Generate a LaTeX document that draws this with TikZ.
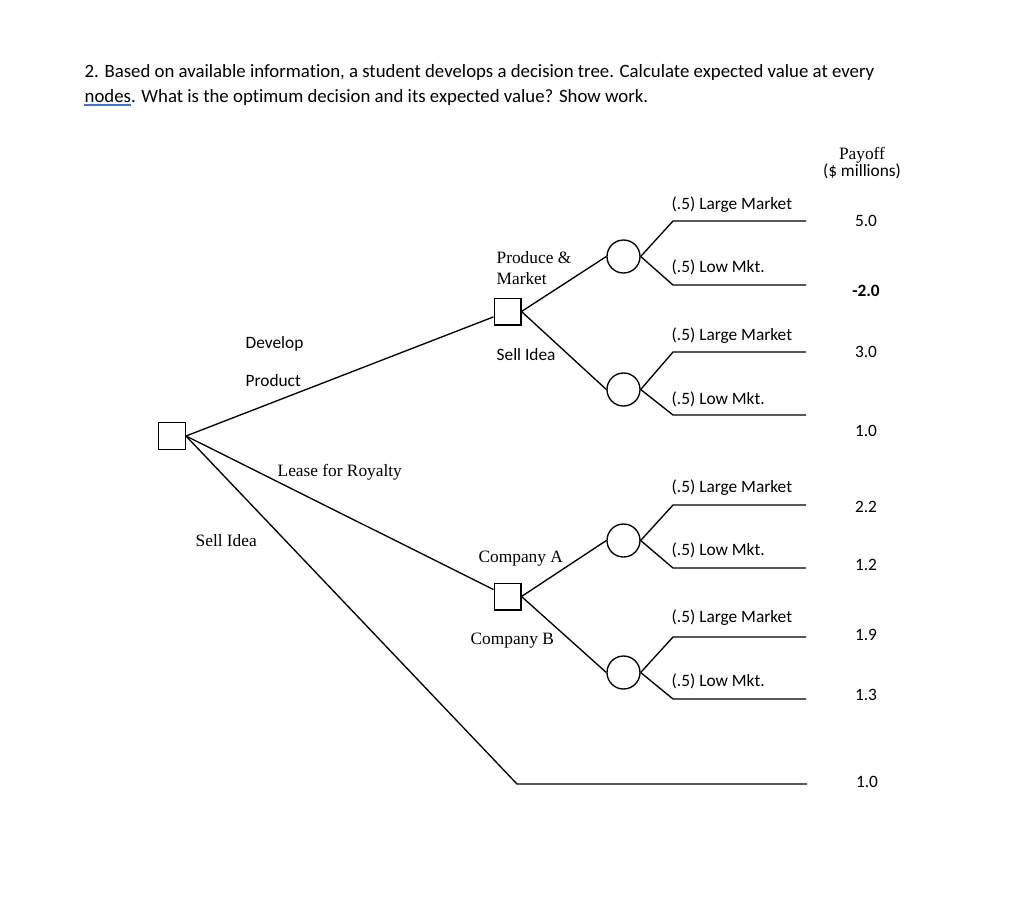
\documentclass[tikz,border=0pt]{standalone}
\usepackage{fontspec}
\setmainfont{Liberation Serif}
\newfontfamily\calfont[Ligatures=NoCommon]{Carlito}
\begin{document}
\begin{tikzpicture}[x=0.75pt,y=-0.75pt,
  line width=1pt,
  decbox/.style={draw, rectangle, minimum size=20pt, inner sep=0pt},
  chance/.style={draw, circle, minimum size=24.75pt, inner sep=0pt},
  serlab/.style={inner sep=0pt, anchor=base west, font=\fontsize{13}{15}\selectfont},
  sanlab/.style={inner sep=0pt, anchor=base west, font=\calfont\fontsize{13}{15}\selectfont},
  paynum/.style={inner sep=0pt, anchor=base, font=\calfont\fontsize{13}{15}\selectfont},
  titletext/.style={inner sep=0pt, anchor=base west, font=\calfont\fontsize{14.1}{17}\selectfont}]
\useasboundingbox (0,0) rectangle (1024,910);

% title
\node[titletext] (t1) at (84,77) {2. Based on available information, a student develops a decision tree. Calculate expected value at every};
\node[titletext] (t2) at (84,102) {nodes. What is the optimum decision and its expected value? Show work.};
\draw[line width=1.5pt, draw={rgb,255:red,68;green,114;blue,210}] (84,104.5) -- (131,104.5);

% payoff header
\node[inner sep=0pt, anchor=base, font=\fontsize{13}{15}\selectfont] (ph) at (862,159) {Payoff};
\node[paynum] (pm) at (862,176) {(\$ millions)};

% decision and chance nodes
\node[decbox] (root) at (172,436) {};
\node[decbox] (d1) at (507.5,311.5) {};
\node[decbox] (d2) at (507.5,596.5) {};
\node[chance] (c1) at (623.5,256.5) {};
\node[chance] (c2) at (623.5,389.5) {};
\node[chance] (c3) at (623.5,540.5) {};
\node[chance] (c4) at (623.5,672.5) {};

% branch coordinates
\coordinate (a1) at (673,221);  \coordinate (b1) at (806,221);
\coordinate (a2) at (673,285);  \coordinate (b2) at (806,285);
\coordinate (a3) at (673,352);  \coordinate (b3) at (806,352);
\coordinate (a4) at (673,415);  \coordinate (b4) at (806,415);
\coordinate (a5) at (673,505);  \coordinate (b5) at (806,505);
\coordinate (a6) at (673,568);  \coordinate (b6) at (806,568);
\coordinate (a7) at (673,637);  \coordinate (b7) at (806,637);
\coordinate (a8) at (673,699);  \coordinate (b8) at (806,699);
\coordinate (s1) at (517,784);  \coordinate (s2) at (807,784);

% connectors
\draw (root.east) -- (d1);
\draw (root.east) -- (d2);
\draw (root.east) -- (s1) -- (s2);
\draw (d1.east) -- (c1.west);
\draw (d1.east) -- (c2.west);
\draw (d2.east) -- (c3.west);
\draw (d2.east) -- (c4.west);
\draw (c1.east) -- (a1) -- (b1);
\draw (c1.east) -- (a2) -- (b2);
\draw (c2.east) -- (a3) -- (b3);
\draw (c2.east) -- (a4) -- (b4);
\draw (c3.east) -- (a5) -- (b5);
\draw (c3.east) -- (a6) -- (b6);
\draw (c4.east) -- (a7) -- (b7);
\draw (c4.east) -- (a8) -- (b8);

% branch labels
\node[sanlab] (l1) at (245,348) {Develop};
\node[sanlab] (l2) at (245,386.5) {Product};
\node[serlab] (l3) at (496,263) {Produce \&};
\node[serlab] (l4) at (496,284) {Market};
\node[sanlab] (l5) at (496,360) {Sell Idea};
\node[serlab] (l6) at (277,476.5) {Lease for Royalty};
\node[serlab] (l7) at (195,546.5) {Sell Idea};
\node[serlab] (l8) at (478,562) {Company A};
\node[serlab] (l9) at (470,644) {Company B};

\node[sanlab] (m1) at (671,209) {(.5) Large Market};
\node[sanlab] (m2) at (671,272) {(.5) Low Mkt.};
\node[sanlab] (m3) at (671,340.5) {(.5) Large Market};
\node[sanlab] (m4) at (671,404) {(.5) Low Mkt.};
\node[sanlab] (m5) at (671,492.5) {(.5) Large Market};
\node[sanlab] (m6) at (671,555) {(.5) Low Mkt.};
\node[sanlab] (m7) at (671,622.5) {(.5) Large Market};
\node[sanlab] (m8) at (671,686.5) {(.5) Low Mkt.};

% payoffs
\node[paynum] (p1) at (866,226.5) {5.0};
\node[paynum] (p2) at (866,296.5) {\bfseries -2.0};
\node[paynum] (p3) at (866,357.5) {3.0};
\node[paynum] (p4) at (866,436.5) {1.0};
\node[paynum] (p5) at (866,512.5) {2.2};
\node[paynum] (p6) at (866,570.5) {1.2};
\node[paynum] (p7) at (866,640.5) {1.9};
\node[paynum] (p8) at (866,700.5) {1.3};
\node[paynum] (p9) at (867,787.5) {1.0};
\end{tikzpicture}
\end{document}
